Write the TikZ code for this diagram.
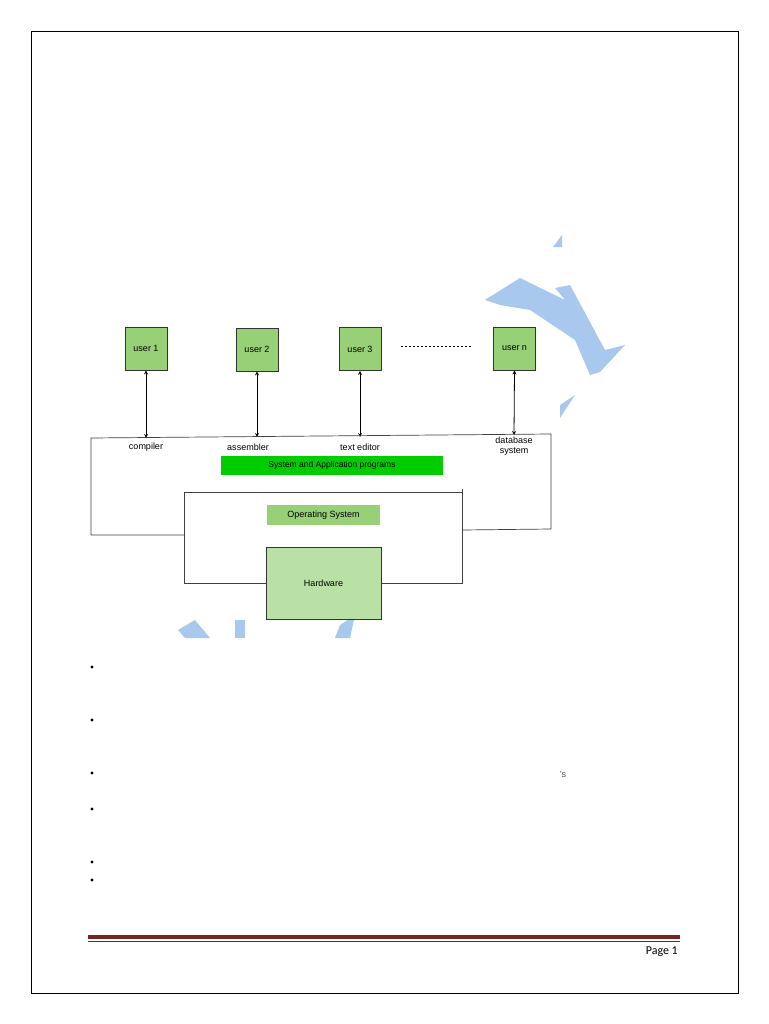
\documentclass[tikz,border=0pt]{standalone}
\usepackage{fontspec}
\setmainfont{Liberation Sans}
\newfontfamily\footfont{Carlito}
\begin{document}
\begin{tikzpicture}[x=1pt,y=-1pt,
  ubox/.style={draw=black!80,fill=green!55!black!45!white,fill=ugreen,line width=0.8pt,minimum width=42pt,minimum height=43pt,font=\fontsize{9}{10}\selectfont},
  lbl/.style={font=\fontsize{9}{10}\selectfont,inner sep=1pt},
  frame/.style={draw=black!75,line width=0.7pt},
  arr/.style={<->,>=stealth,line width=0.8pt},
  wm/.style={fill=wblue,draw=none}]
\definecolor{ugreen}{HTML}{97D077}
\definecolor{hgreen}{HTML}{B9E0A5}
\definecolor{sgreen}{HTML}{00CC00}
\definecolor{wblue}{HTML}{A8C8EE}
\definecolor{fred}{HTML}{7A2323}
\useasboundingbox (0,0) rectangle (768,1024);
\fill[white] (0,0) rectangle (768,1024);
\draw[line width=0.6pt] (31,31) rectangle (738,993);
% watermark fragments
\fill[wm] (553,247) -- (562,235) -- (562,247) -- cycle;
\fill[wm] (485,300) -- (520,278) -- (565,300) -- (555,288) -- (570,285) -- (605,350) -- (625,345) -- (600,372) -- (590,375) -- (575,340) -- (530,310) -- (500,305) -- cycle;
\fill[wm] (560,405) -- (575,395) -- (560,418) -- cycle;
\fill[wm] (178,630) -- (195,620) -- (210,638) -- (185,638) -- cycle;
\fill[wm] (235,620) -- (245,620) -- (245,638) -- (235,638) -- cycle;
\fill[wm] (340,625) -- (355,615) -- (350,638) -- (335,638) -- cycle;
% users
\node[ubox] (u1) at (146,348.5) {user 1};
\node[ubox] (u2) at (257,349.5) {user 2};
\node[ubox] (u3) at (360,349) {user 3};
\node[ubox] (un) at (514.5,348.5) {user n};
\coordinate (d1) at (401,346); \coordinate (d2) at (472,346);
\draw[dashed,line width=0.6pt,dash pattern=on 2pt off 2pt] (d1) -- (d2);
% labels
\node[lbl] (c1) at (146,447) {compiler};
\node[lbl] (c2) at (248,447) {assembler};
\node[lbl] (c3) at (360,447) {text editor};
\node[lbl,align=center,font=\fontsize{9}{10}\selectfont] (c4) at (514,446) {database\\system};
\draw[arr] (u1.south) -- (146,438);
\draw[arr] (u2.south) -- (257,437);
\draw[arr] (u3.south) -- (360,437);
\draw[arr] (un.south) -- (514,435);
% frames
\draw[frame] (184,535) -- (91,535) -- (91,438) -- (551,434) -- (551,529) -- (462,530);
\draw[frame] (266,583) -- (184,583) -- (184,492) -- (462,492);
\draw[frame] (462,489) -- (462,583) -- (381,583);
\node[fill=sgreen,minimum width=222pt,minimum height=19pt,font=\fontsize{8.5}{10}\selectfont,inner sep=0pt] (sap) at (332,465.5) {System and Application programs};
\node[fill=ugreen,minimum width=113pt,minimum height=20pt,font=\fontsize{9}{10}\selectfont,inner sep=0pt] (os) at (323.5,515) {Operating System};
\node[draw=black!80,fill=hgreen,minimum width=115pt,minimum height=72pt,font=\fontsize{9}{10}\selectfont,line width=0.7pt] (hw) at (323.5,583) {Hardware};
% bullets
\foreach \yy in {667,720,773,809,862,880} \fill (92,\yy) circle (1.6pt);
\node[font=\fontsize{9}{10}\selectfont,text=black!70] (s) at (563,774) {'s};
% footer
\fill[fred] (88,935) rectangle (680,939);
\draw[fred,line width=0.6pt] (88,941.5) -- (680,941.5);
\node[anchor=east,font=\footfont\fontsize{12}{14}\selectfont,inner sep=0pt] (pg) at (678,952) {Page 1};
\end{tikzpicture}
\end{document}
